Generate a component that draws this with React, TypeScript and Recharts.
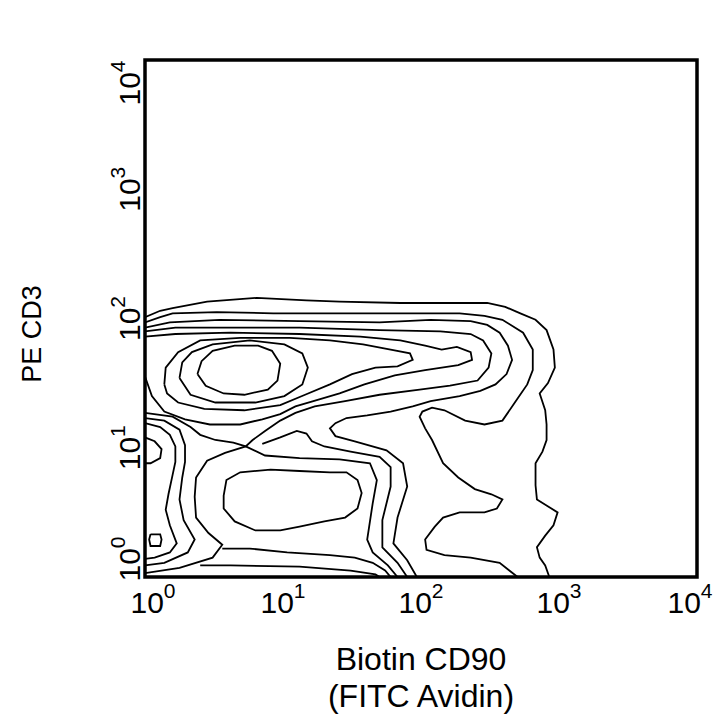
import { Line, LineChart, ReferenceArea, XAxis, YAxis } from 'recharts';

// axis decades (log10 of fluorescence), labelled 10^n
const decades = [0, 1, 2, 3, 4];

// contour lines, points as [log10 CD90, log10 CD3]
const outer1 = [
    [0, 2.01], [0.11, 2.06], [0.2, 2.08], [0.45, 2.13], [0.81, 2.16], [1.17, 2.14], [1.41, 2.13],
    [1.85, 2.12], [2.28, 2.12], [2.48, 2.12], [2.61, 2.09], [2.72, 2.04], [2.83, 1.99], [2.91, 1.91],
    [2.96, 1.76], [2.97, 1.62], [2.92, 1.5], [2.86, 1.42], [2.9, 1.29], [2.91, 1.18], [2.91, 1.06],
    [2.88, 0.97], [2.83, 0.88], [2.83, 0.71], [2.84, 0.6], [2.93, 0.54], [2.99, 0.5], [2.96, 0.4],
    [2.9, 0.32], [2.84, 0.23], [2.86, 0.15], [2.9, 0.09], [2.93, 0]
];
const outer2 = [
    [0, 1.97], [0.11, 2.01], [0.2, 2.04], [0.52, 2.05], [0.93, 2.04], [1.41, 2.04], [1.85, 2.04],
    [2.28, 2.04], [2.46, 2.02], [2.59, 1.99], [2.74, 1.89], [2.81, 1.76], [2.81, 1.6], [2.77, 1.49],
    [2.68, 1.35], [2.59, 1.21], [2.46, 1.18], [2.32, 1.21], [2.17, 1.29], [2.08, 1.31], [2.01, 1.28],
    [1.99, 1.24], [2.03, 1.15], [2.08, 1.06], [2.16, 0.88], [2.27, 0.77], [2.39, 0.68], [2.51, 0.64],
    [2.59, 0.6], [2.55, 0.53], [2.46, 0.5], [2.28, 0.5], [2.16, 0.46], [2.1, 0.39], [2.03, 0.29],
    [2.04, 0.21], [2.17, 0.17], [2.36, 0.15], [2.57, 0.11], [2.64, 0.05], [2.7, 0]
];
const outer3 = [
    [0, 1.93], [0.18, 1.97], [0.54, 1.99], [1.12, 1.98], [1.7, 1.97], [2.07, 1.99], [2.36, 1.98],
    [2.48, 1.95], [2.57, 1.89], [2.63, 1.79], [2.66, 1.68], [2.62, 1.57], [2.54, 1.49], [2.43, 1.44],
    [2.28, 1.4], [2.07, 1.36], [1.94, 1.32], [1.78, 1.28], [1.61, 1.25], [1.46, 1.23], [1.38, 1.19],
    [1.34, 1.15], [1.38, 1.09], [1.52, 1.05], [1.75, 0.98], [1.87, 0.88], [1.9, 0.7], [1.83, 0.46],
    [1.8, 0.26], [1.9, 0.13], [1.97, 0]
];
const saddleA = [
    [0, 1.9], [0.22, 1.93], [0.62, 1.93], [1.12, 1.93], [1.7, 1.91], [2.14, 1.9], [2.36, 1.88],
    [2.45, 1.83], [2.51, 1.73], [2.49, 1.62], [2.41, 1.52], [2.21, 1.48], [1.99, 1.45], [1.7, 1.41],
    [1.45, 1.36], [1.23, 1.32], [1.09, 1.27], [0.98, 1.21], [0.87, 1.13], [0.78, 1.06], [0.73, 1.01],
    [0.58, 0.96], [0.45, 0.9], [0.37, 0.77], [0.36, 0.62], [0.37, 0.46], [0.46, 0.34], [0.56, 0.25],
    [0.49, 0.15], [0.25, 0.07], [0, 0.03]
];
const saddleB = [
    [0, 1.27], [0.2, 1.24], [0.33, 1.16], [0.4, 1.1], [0.51, 1.06], [0.64, 1.04], [0.73, 1.01],
    [0.87, 0.94], [1.12, 0.92], [1.41, 0.91], [1.63, 0.88], [1.68, 0.75], [1.65, 0.57], [1.61, 0.29],
    [1.65, 0.19], [1.76, 0.09], [1.83, 0]
];
const bothBlobs = [
    [0, 1.86], [0.22, 1.88], [0.62, 1.89], [1.12, 1.88], [1.56, 1.86], [1.85, 1.83], [2.03, 1.79],
    [2.15, 1.76], [2.26, 1.78], [2.36, 1.74], [2.37, 1.68], [2.27, 1.64], [2.03, 1.6], [1.81, 1.56],
    [1.59, 1.49], [1.41, 1.42], [1.22, 1.36], [1.09, 1.32], [0.98, 1.26], [0.85, 1.22], [0.69, 1.18],
    [0.47, 1.18], [0.29, 1.22], [0.14, 1.28], [0.05, 1.4], [0, 1.55]
];
const cd3Ring3 = [
    [0.14, 1.49], [0.15, 1.62], [0.24, 1.74], [0.4, 1.83], [0.69, 1.85], [1.05, 1.85], [1.34, 1.83],
    [1.58, 1.8], [1.78, 1.76], [1.92, 1.73], [1.94, 1.68], [1.83, 1.63], [1.67, 1.62], [1.5, 1.57],
    [1.34, 1.49], [1.16, 1.41], [0.98, 1.33], [0.72, 1.29], [0.43, 1.3], [0.24, 1.35], [0.16, 1.42],
    [0.14, 1.49]
];
const cd3Ring2 = [
    [0.25, 1.54], [0.27, 1.66], [0.34, 1.74], [0.49, 1.8], [0.76, 1.83], [1.01, 1.8], [1.14, 1.73],
    [1.18, 1.62], [1.14, 1.49], [1.01, 1.4], [0.8, 1.35], [0.51, 1.35], [0.33, 1.41], [0.25, 1.54]
];
const cd3Ring1 = [
    [0.38, 1.57], [0.41, 1.67], [0.49, 1.75], [0.65, 1.79], [0.82, 1.79], [0.92, 1.75], [0.98, 1.65],
    [0.96, 1.52], [0.89, 1.45], [0.72, 1.41], [0.57, 1.42], [0.44, 1.48], [0.38, 1.57]
];
const leftV1 = [
    [0, 1.19], [0.11, 1.16], [0.18, 1.1], [0.22, 1.01], [0.22, 0.89], [0.2, 0.79], [0.17, 0.64],
    [0.15, 0.52], [0.18, 0.4], [0.23, 0.26], [0.18, 0.19], [0.07, 0.15], [0, 0.14]
];
const leftV2 = [
    [0, 1.23], [0.14, 1.21], [0.25, 1.14], [0.29, 1.02], [0.29, 0.89], [0.27, 0.77], [0.25, 0.6],
    [0.28, 0.44], [0.36, 0.29], [0.31, 0.19], [0.14, 0.11], [0, 0.09]
];
const leftSpot = [[0, 1.08], [0.07, 1.05], [0.12, 0.99], [0.11, 0.92], [0.04, 0.88], [0, 0.88]];
const lowSpot = [[0.04, 0.33], [0.11, 0.33], [0.12, 0.29], [0.11, 0.24], [0.04, 0.24], [0.03, 0.29], [0.04, 0.33]];
const negRing = [
    [0.57, 0.63], [0.59, 0.75], [0.69, 0.81], [0.91, 0.83], [1.12, 0.82], [1.34, 0.81], [1.46, 0.81],
    [1.54, 0.75], [1.57, 0.65], [1.54, 0.53], [1.45, 0.46], [1.3, 0.43], [1.12, 0.39], [0.98, 0.36],
    [0.8, 0.36], [0.65, 0.43], [0.57, 0.53], [0.57, 0.63]
];
const negArc = [
    [0.85, 1.03], [0.98, 1.08], [1.1, 1.13], [1.17, 1.11], [1.21, 1.05], [1.3, 1.01], [1.49, 0.97],
    [1.7, 0.93], [1.78, 0.85], [1.78, 0.7], [1.72, 0.44], [1.72, 0.23], [1.83, 0.11], [1.9, 0]
];
const floor1 = [[0.56, 0.22], [0.76, 0.22], [1.03, 0.19], [1.34, 0.17], [1.52, 0.15], [1.65, 0.11], [1.74, 0.05], [1.78, 0]];
const floor2 = [[0.4, 0.09], [0.62, 0.09], [1.12, 0.08], [1.49, 0.05], [1.67, 0.02], [1.7, 0]];

const contours = [
    outer1, outer2, outer3, saddleA, saddleB, bothBlobs, cd3Ring3, cd3Ring2, cd3Ring1,
    leftV1, leftV2, leftSpot, lowSpot, negRing, negArc, floor1, floor2
];

const FONT = '"Liberation Sans", Arial, Helvetica, sans-serif';

const XTick = ({ x, y, payload }: any) => {
    const v = payload.value;
    const shift = v === 0 ? 8 : v === 4 ? -7 : 0;
    return (
        <text x={x + shift} y={y + 36} textAnchor="middle" fontSize={30} fill="#000" fontFamily={FONT}>
            10<tspan dy={-15} fontSize={21}>{v}</tspan>
        </text>
    );
};

const YTick = ({ x, y, payload }: any) => {
    const v = payload.value;
    const shift = v === 4 ? 23 : v === 0 ? -18 : 0;
    const cx = x - 5;
    const cy = y + shift;
    return (
        <text x={cx} y={cy} transform={`rotate(-90, ${cx}, ${cy})`} textAnchor="middle" fontSize={30} fill="#000" fontFamily={FONT}>
            10<tspan dy={-15} fontSize={21}>{v}</tspan>
        </text>
    );
};

export default function App() {
    return (
        <div style={{ position: 'absolute', left: 0, top: 0, width: 720, height: 720, background: '#fff', fontFamily: FONT }}>
            <LineChart width={720} height={720} margin={{ top: 60, right: 23, bottom: 103, left: 85 }}>
                <XAxis
                    type="number"
                    dataKey="x"
                    domain={[0, 4]}
                    ticks={decades}
                    allowDataOverflow
                    height={40}
                    tickSize={0}
                    tickMargin={0}
                    axisLine={false}
                    tick={<XTick />}
                />
                <YAxis
                    type="number"
                    domain={[0, 4]}
                    ticks={decades}
                    allowDataOverflow
                    width={60}
                    tickSize={0}
                    tickMargin={0}
                    axisLine={false}
                    tick={<YTick />}
                />
                {contours.map((c, i) => (
                    <Line
                        key={i}
                        data={c.map(([x, y]) => ({ x, y }))}
                        dataKey="y"
                        type="linear"
                        stroke="#000"
                        strokeWidth={1.8}
                        dot={false}
                        activeDot={false}
                        isAnimationActive={false}
                    />
                ))}
                <ReferenceArea x1={0} x2={4} y1={0} y2={4} fill="none" stroke="#000" strokeWidth={3.5} />
            </LineChart>

            {/* axis titles */}
            <div style={{ position: 'absolute', left: 221, top: 641, width: 400, textAlign: 'center', fontSize: 32, lineHeight: '37px', color: '#000' }}>
                Biotin CD90
                <br />
                (FITC Avidin)
            </div>
            <div style={{
                position: 'absolute', left: -68, top: 316, width: 200, height: 36, lineHeight: '36px',
                textAlign: 'center', fontSize: 27, color: '#000', transform: 'rotate(-90deg)'
            }}>
                PE CD3
            </div>
        </div>
    );
}
